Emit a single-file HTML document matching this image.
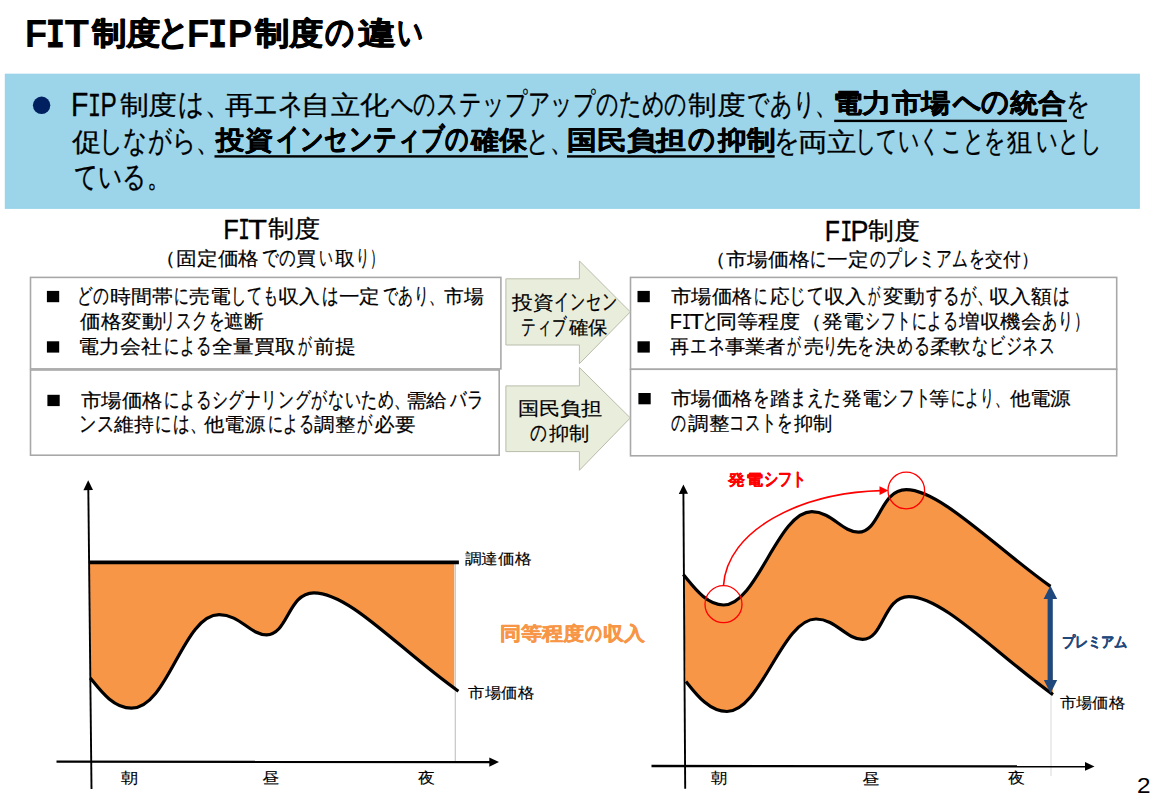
<!DOCTYPE html>
<html lang="ja">
<head>
<meta charset="utf-8">
<title>FIT制度とFIP制度の違い</title>
<style>
html,body{margin:0;padding:0;background:#fff}
body{width:1159px;height:799px;overflow:hidden}
svg{display:block;font-family:"Liberation Sans",sans-serif}
text{white-space:pre;stroke:#000;stroke-width:.35px;stroke-linejoin:round}
.b{font-weight:bold;stroke-width:.5px}
</style>
</head>
<body>
<svg width="1159" height="799" viewBox="0 0 1159 799">
<rect x="5.3" y="74.2" width="1134" height="134.1" fill="#9cd5ea" stroke="#93d1e8" stroke-width="1"/>
<circle cx="41.6" cy="105.3" r="8.7" fill="#002060"/>
<rect x="834.2" y="119.7" width="232.7" height="2.4" fill="#000"/>
<rect x="214.5" y="155.2" width="313.4" height="2.4" fill="#000"/>
<rect x="567.0" y="155.2" width="207.7" height="2.4" fill="#000"/>
<rect x="30.5" y="277.4" width="470.4" height="91.5" fill="#fff" stroke="#a8a8a8" stroke-width="1.6"/>
<rect x="30.5" y="370.0" width="468.7" height="85.2" fill="#fff" stroke="#a8a8a8" stroke-width="1.6"/>
<rect x="630.5" y="277.4" width="486.2" height="91.9" fill="#fff" stroke="#a8a8a8" stroke-width="1.6"/>
<rect x="630.5" y="369.3" width="486.2" height="86.5" fill="#fff" stroke="#a8a8a8" stroke-width="1.6"/>
<polygon points="505.9,278.8 579.4,278.8 579.4,260.9 630.3,311.9 579.4,363.7 579.4,345 505.9,345" fill="#e9eddc" stroke="#b9bcaa" stroke-width="1"/>
<polygon points="505.9,385.9 579.4,385.9 579.4,367.5 630.3,417.9 579.4,470.3 579.4,451.6 505.9,451.6" fill="#e9eddc" stroke="#b9bcaa" stroke-width="1"/>
<rect x="46.9" y="290.9" width="12.3" height="11.3" fill="#000"/>
<rect x="46.9" y="341.3" width="12.3" height="11.3" fill="#000"/>
<rect x="47.4" y="394.8" width="12.3" height="11.3" fill="#000"/>
<rect x="637.5" y="290.9" width="12.3" height="11.3" fill="#000"/>
<rect x="637.5" y="341.3" width="12.3" height="11.3" fill="#000"/>
<rect x="638.4" y="393" width="12.3" height="11.3" fill="#000"/>
<path d="M90.3,678 C100,690 113,708.2 131.5,708.2 C168,708.2 183,614.6 219.2,614.6 C240,614.6 250,634.8 266.6,634.8 C288,634.8 288,592.8 313.8,592.8 C350,592.8 400,650 458.4,691.2 L454.3,689 L454.3,562.7 L90,562.7 Z" fill="#f79646"/>
<line x1="455.3" y1="563" x2="455.3" y2="762" stroke="#c6c6c6" stroke-width="1.2"/>
<path d="M90.3,678 C100,690 113,708.2 131.5,708.2 C168,708.2 183,614.6 219.2,614.6 C240,614.6 250,634.8 266.6,634.8 C288,634.8 288,592.8 313.8,592.8 C350,592.8 400,650 458.4,691.2" fill="none" stroke="#000" stroke-width="3.2" stroke-linecap="butt"/>
<line x1="89.5" y1="562.4" x2="458.9" y2="562.4" stroke="#000" stroke-width="3.8"/>
<line x1="91.5" y1="789" x2="88.3" y2="488" stroke="#000" stroke-width="1.9"/>
<polygon points="88.2,480.3 93,490.1 83.4,490.2" fill="#000"/>
<line x1="56.5" y1="761.6" x2="490" y2="762" stroke="#000" stroke-width="2.3"/>
<polygon points="499,762 489.3,757.4 489.3,766.7" fill="#000"/>
<path d="M683.3,574.5 C693,586 706,605 723.5,605 C757,605 778,511.7 811.8,511.7 C832,511.7 842,532.1 858.4,532.1 C880,532.1 880,489.7 906.3,489.7 C940,489.7 995,547 1050.5,586.4 L1053,694.6 C995,653 943,596.6 908.8,596.6 C883,596.6 884,639.4 862.6,639.4 C846,639.4 836,619 816,619 C782,619 761,711.5 727,711.5 C709,711.5 696,694 686,681.5 Z" fill="#f79646"/>
<line x1="1051" y1="693" x2="1051" y2="776" stroke="#d9d9d9" stroke-width="1"/>
<path d="M683.3,574.5 C693,586 706,605 723.5,605 C757,605 778,511.7 811.8,511.7 C832,511.7 842,532.1 858.4,532.1 C880,532.1 880,489.7 906.3,489.7 C940,489.7 995,547 1050.5,586.4" fill="none" stroke="#000" stroke-width="3.2" stroke-linecap="butt"/>
<path d="M686,681.5 C696,694 709,711.5 727,711.5 C761,711.5 782,619 816,619 C836,619 846,639.4 862.6,639.4 C884,639.4 883,596.6 908.8,596.6 C943,596.6 995,653 1053,694.6" fill="none" stroke="#000" stroke-width="3.2" stroke-linecap="butt"/>
<line x1="685.2" y1="788.7" x2="683.4" y2="492" stroke="#000" stroke-width="1.9"/>
<polygon points="683.4,484.5 688,493.8 678.8,493.9" fill="#000"/>
<line x1="651.5" y1="766.0" x2="1087" y2="766.4" stroke="#000" stroke-width="2.3"/>
<polygon points="1094.5,766.4 1085,762 1085,770.8" fill="#000"/>
<circle cx="723.5" cy="604.2" r="18.5" fill="none" stroke="#ff0000" stroke-width="1.3"/>
<circle cx="906.3" cy="490.5" r="18.3" fill="none" stroke="#ff0000" stroke-width="1.3"/>
<path d="M723.5,585.6 C727,530 800,493 881,490.6" fill="none" stroke="#ff0000" stroke-width="1.6"/>
<polygon points="888.4,490.5 879.5,486.2 879.6,495" fill="#ff0000"/>
<line x1="1050.2" y1="598" x2="1050.2" y2="681" stroke="#1f497d" stroke-width="5.2"/>
<polygon points="1050.4,585.7 1057.2,599 1043.6,599" fill="#1f497d"/>
<polygon points="1050.6,693.2 1057.2,680 1043.8,680" fill="#1f497d"/>
<text x="25.05" y="47.30" font-size="39" textLength="22.15" lengthAdjust="spacingAndGlyphs" class="b" style="stroke-width:0.2px;">F</text>
<text x="46.12" y="47.30" font-size="40.6545" textLength="18.71" lengthAdjust="spacingAndGlyphs" class="b" font-family="Liberation Mono" style="stroke-width:1px;">I</text>
<text x="64.74" y="47.30" font-size="39" textLength="24.21" lengthAdjust="spacingAndGlyphs" class="b" style="stroke-width:0.2px;">T</text>
<text x="91.75" y="44.25" font-size="30.5" textLength="68.75" lengthAdjust="spacingAndGlyphs" class="b" style="stroke-width:0.9px;">制度</text>
<text x="157.20" y="44.25" font-size="35.07" textLength="33.38" lengthAdjust="spacingAndGlyphs" class="b" style="stroke-width:0.9px;">と</text>
<text x="186.93" y="47.30" font-size="39" textLength="22.26" lengthAdjust="spacingAndGlyphs" class="b" style="stroke-width:0.2px;">F</text>
<text x="208.17" y="47.30" font-size="40.6545" textLength="18.59" lengthAdjust="spacingAndGlyphs" class="b" font-family="Liberation Mono" style="stroke-width:1px;">I</text>
<text x="227.79" y="47.30" font-size="39" textLength="24.46" lengthAdjust="spacingAndGlyphs" class="b" style="stroke-width:0.2px;">P</text>
<text x="254.75" y="44.25" font-size="30.5" textLength="68.65" lengthAdjust="spacingAndGlyphs" class="b" style="stroke-width:0.9px;">制度</text>
<text x="324.74" y="44.25" font-size="35.07" textLength="29.58" lengthAdjust="spacingAndGlyphs" class="b" style="stroke-width:0.9px;">の</text>
<text x="357.70" y="44.25" font-size="30.5" textLength="38.13" lengthAdjust="spacingAndGlyphs" class="b" style="stroke-width:0.9px;">違</text>
<text x="396.99" y="44.25" font-size="35.07" textLength="26.38" lengthAdjust="spacingAndGlyphs" class="b" style="stroke-width:0.9px;">い</text>
<text x="71.07" y="116.40" font-size="32.7" textLength="17.34" lengthAdjust="spacingAndGlyphs" style="stroke-width:0.33px;">F</text>
<text x="87.91" y="116.40" font-size="34.0873" textLength="12.96" lengthAdjust="spacingAndGlyphs" font-family="Liberation Mono" style="stroke-width:0.34px;">I</text>
<text x="100.46" y="116.40" font-size="32.7" textLength="16.28" lengthAdjust="spacingAndGlyphs" style="stroke-width:0.33px;">P</text>
<text x="119.50" y="114.30" font-size="26.3" textLength="57.52" lengthAdjust="spacingAndGlyphs" style="stroke-width:0.26px;">制度</text>
<text x="178.30" y="114.30" font-size="30.24" textLength="52.26" lengthAdjust="spacingAndGlyphs" style="stroke-width:0.3px;">は、</text>
<text x="224.84" y="114.30" font-size="26.3" textLength="29.04" lengthAdjust="spacingAndGlyphs" style="stroke-width:0.26px;">再</text>
<text x="252.96" y="114.30" font-size="30.24" textLength="50.58" lengthAdjust="spacingAndGlyphs" style="stroke-width:0.3px;">エネ</text>
<text x="301.44" y="114.30" font-size="26.3" textLength="87.41" lengthAdjust="spacingAndGlyphs" style="stroke-width:0.26px;">自立化</text>
<text x="390.65" y="114.30" font-size="30.24" textLength="296.61" lengthAdjust="spacingAndGlyphs" style="stroke-width:0.3px;">へのステップアップのための</text>
<text x="688.20" y="114.30" font-size="26.3" textLength="57.22" lengthAdjust="spacingAndGlyphs" style="stroke-width:0.26px;">制度</text>
<text x="747.09" y="114.30" font-size="30.24" textLength="90.14" lengthAdjust="spacingAndGlyphs" style="stroke-width:0.3px;">であり、</text>
<text x="833.20" y="112.45" font-size="26" textLength="117.05" lengthAdjust="spacingAndGlyphs" class="b">電力市場</text>
<text x="952.76" y="112.45" font-size="29.9" textLength="56.76" lengthAdjust="spacingAndGlyphs" class="b">への</text>
<text x="1010.25" y="112.45" font-size="26" textLength="56.00" lengthAdjust="spacingAndGlyphs" class="b">統合</text>
<text x="1066.16" y="114.30" font-size="30.24" textLength="24.36" lengthAdjust="spacingAndGlyphs" style="stroke-width:0.3px;">を</text>
<text x="71.60" y="150.65" font-size="26.3" textLength="29.72" lengthAdjust="spacingAndGlyphs" style="stroke-width:0.26px;">促</text>
<text x="99.09" y="150.65" font-size="30.24" textLength="120.98" lengthAdjust="spacingAndGlyphs" style="stroke-width:0.3px;">しながら、</text>
<text x="216.29" y="148.70" font-size="26" textLength="56.50" lengthAdjust="spacingAndGlyphs" class="b">投資</text>
<text x="276.39" y="148.70" font-size="29.9" textLength="192.48" lengthAdjust="spacingAndGlyphs" class="b">インセンティブの</text>
<text x="470.98" y="148.70" font-size="26" textLength="56.12" lengthAdjust="spacingAndGlyphs" class="b">確保</text>
<text x="525.77" y="150.65" font-size="30.24" textLength="47.23" lengthAdjust="spacingAndGlyphs" style="stroke-width:0.3px;">と、</text>
<text x="566.98" y="148.70" font-size="26" textLength="119.37" lengthAdjust="spacingAndGlyphs" class="b">国民負担</text>
<text x="688.43" y="148.70" font-size="29.9" textLength="27.50" lengthAdjust="spacingAndGlyphs" class="b">の</text>
<text x="717.95" y="148.70" font-size="26" textLength="57.15" lengthAdjust="spacingAndGlyphs" class="b">抑制</text>
<text x="774.17" y="150.65" font-size="30.24" textLength="26.03" lengthAdjust="spacingAndGlyphs" style="stroke-width:0.3px;">を</text>
<text x="797.77" y="150.65" font-size="26.3" textLength="58.82" lengthAdjust="spacingAndGlyphs" style="stroke-width:0.26px;">両立</text>
<text x="854.55" y="150.65" font-size="30.24" textLength="151.50" lengthAdjust="spacingAndGlyphs" style="stroke-width:0.3px;">していくことを</text>
<text x="1007.00" y="150.65" font-size="26.3" textLength="25.21" lengthAdjust="spacingAndGlyphs" style="stroke-width:0.26px;">狙</text>
<text x="1035.67" y="150.65" font-size="30.24" textLength="66.04" lengthAdjust="spacingAndGlyphs" style="stroke-width:0.3px;">いとし</text>
<text x="73.53" y="186.90" font-size="30.24" textLength="96.90" lengthAdjust="spacingAndGlyphs" style="stroke-width:0.3px;">ている。</text>
<text x="223.37" y="238.90" font-size="28.2" textLength="15.55" lengthAdjust="spacingAndGlyphs" style="stroke-width:0.28px;">F</text>
<text x="238.17" y="238.90" font-size="29.3964" textLength="11.63" lengthAdjust="spacingAndGlyphs" font-family="Liberation Mono" style="stroke-width:0.29px;">I</text>
<text x="247.97" y="238.90" font-size="28.2" textLength="19.06" lengthAdjust="spacingAndGlyphs" style="stroke-width:0.28px;">T</text>
<text x="267.90" y="237.05" font-size="24.2" textLength="52.37" lengthAdjust="spacingAndGlyphs" style="stroke-width:0.24px;">制度</text>
<text x="155.41" y="265.07" font-size="19.2" textLength="103.84" lengthAdjust="spacingAndGlyphs" style="stroke-width:0.19px;">（固定価格</text>
<text x="261.50" y="265.07" font-size="22.08" textLength="34.64" lengthAdjust="spacingAndGlyphs" style="stroke-width:0.22px;">での</text>
<text x="296.48" y="265.07" font-size="19.2" textLength="19.89" lengthAdjust="spacingAndGlyphs" style="stroke-width:0.19px;">買</text>
<text x="318.57" y="265.07" font-size="22.08" textLength="14.41" lengthAdjust="spacingAndGlyphs" style="stroke-width:0.22px;">い</text>
<text x="334.74" y="265.07" font-size="19.2" textLength="19.98" lengthAdjust="spacingAndGlyphs" style="stroke-width:0.19px;">取</text>
<text x="355.81" y="265.07" font-size="22.08" textLength="27.17" lengthAdjust="spacingAndGlyphs" style="stroke-width:0.22px;">り）</text>
<text x="824.73" y="240.80" font-size="28.9" textLength="15.19" lengthAdjust="spacingAndGlyphs" style="stroke-width:0.29px;">F</text>
<text x="840.23" y="240.80" font-size="30.1261" textLength="12.19" lengthAdjust="spacingAndGlyphs" font-family="Liberation Mono" style="stroke-width:0.3px;">I</text>
<text x="850.59" y="240.80" font-size="28.9" textLength="17.95" lengthAdjust="spacingAndGlyphs" style="stroke-width:0.29px;">P</text>
<text x="868.40" y="238.67" font-size="24.2" textLength="51.57" lengthAdjust="spacingAndGlyphs" style="stroke-width:0.24px;">制度</text>
<text x="704.63" y="265.91" font-size="19.2" textLength="105.33" lengthAdjust="spacingAndGlyphs" style="stroke-width:0.19px;">（市場価格</text>
<text x="810.14" y="265.91" font-size="22.08" textLength="16.98" lengthAdjust="spacingAndGlyphs" style="stroke-width:0.22px;">に</text>
<text x="827.22" y="265.91" font-size="19.2" textLength="41.44" lengthAdjust="spacingAndGlyphs" style="stroke-width:0.19px;">一定</text>
<text x="869.59" y="265.91" font-size="22.08" textLength="115.56" lengthAdjust="spacingAndGlyphs" style="stroke-width:0.22px;">のプレミアムを</text>
<text x="985.42" y="265.91" font-size="19.2" textLength="53.22" lengthAdjust="spacingAndGlyphs" style="stroke-width:0.19px;">交付）</text>
<text x="76.85" y="302.74" font-size="22.2" textLength="32.89" lengthAdjust="spacingAndGlyphs" style="stroke-width:0.22px;">どの</text>
<text x="109.87" y="302.74" font-size="19.3" textLength="62.92" lengthAdjust="spacingAndGlyphs" style="stroke-width:0.19px;">時間帯</text>
<text x="173.93" y="302.74" font-size="22.2" textLength="15.33" lengthAdjust="spacingAndGlyphs" style="stroke-width:0.22px;">に</text>
<text x="189.49" y="302.74" font-size="19.3" textLength="41.56" lengthAdjust="spacingAndGlyphs" style="stroke-width:0.19px;">売電</text>
<text x="231.04" y="302.74" font-size="22.2" textLength="47.55" lengthAdjust="spacingAndGlyphs" style="stroke-width:0.22px;">しても</text>
<text x="277.81" y="302.74" font-size="19.3" textLength="41.86" lengthAdjust="spacingAndGlyphs" style="stroke-width:0.19px;">収入</text>
<text x="321.87" y="302.74" font-size="22.2" textLength="17.28" lengthAdjust="spacingAndGlyphs" style="stroke-width:0.22px;">は</text>
<text x="338.82" y="302.74" font-size="19.3" textLength="41.12" lengthAdjust="spacingAndGlyphs" style="stroke-width:0.19px;">一定</text>
<text x="382.77" y="302.74" font-size="22.2" textLength="61.40" lengthAdjust="spacingAndGlyphs" style="stroke-width:0.22px;">であり、</text>
<text x="443.64" y="302.74" font-size="19.3" textLength="39.81" lengthAdjust="spacingAndGlyphs" style="stroke-width:0.19px;">市場</text>
<text x="80.10" y="328.00" font-size="19.3" textLength="82.71" lengthAdjust="spacingAndGlyphs" style="stroke-width:0.19px;">価格変動</text>
<text x="160.06" y="328.00" font-size="22.2" textLength="64.85" lengthAdjust="spacingAndGlyphs" style="stroke-width:0.22px;">リスクを</text>
<text x="224.09" y="328.00" font-size="19.3" textLength="39.57" lengthAdjust="spacingAndGlyphs" style="stroke-width:0.19px;">遮断</text>
<text x="78.05" y="353.24" font-size="19.3" textLength="84.02" lengthAdjust="spacingAndGlyphs" style="stroke-width:0.19px;">電力会社</text>
<text x="164.38" y="353.24" font-size="22.2" textLength="47.74" lengthAdjust="spacingAndGlyphs" style="stroke-width:0.22px;">による</text>
<text x="212.46" y="353.24" font-size="19.3" textLength="83.33" lengthAdjust="spacingAndGlyphs" style="stroke-width:0.19px;">全量買取</text>
<text x="297.56" y="353.24" font-size="22.2" textLength="14.29" lengthAdjust="spacingAndGlyphs" style="stroke-width:0.22px;">が</text>
<text x="313.84" y="353.24" font-size="19.3" textLength="41.66" lengthAdjust="spacingAndGlyphs" style="stroke-width:0.19px;">前提</text>
<text x="80.75" y="406.90" font-size="19.3" textLength="82.16" lengthAdjust="spacingAndGlyphs" style="stroke-width:0.19px;">市場価格</text>
<text x="163.81" y="406.90" font-size="22.2" textLength="48.23" lengthAdjust="spacingAndGlyphs" style="stroke-width:0.22px;">による</text>
<text x="211.57" y="406.90" font-size="22.2" textLength="198.79" lengthAdjust="spacingAndGlyphs" style="stroke-width:0.22px;">シグナリングがないため、</text>
<text x="405.59" y="406.90" font-size="19.3" textLength="41.53" lengthAdjust="spacingAndGlyphs" style="stroke-width:0.19px;">需給</text>
<text x="449.75" y="406.90" font-size="22.2" textLength="34.52" lengthAdjust="spacingAndGlyphs" style="stroke-width:0.22px;">バラ</text>
<text x="78.61" y="431.24" font-size="22.2" textLength="35.97" lengthAdjust="spacingAndGlyphs" style="stroke-width:0.22px;">ンス</text>
<text x="114.45" y="431.24" font-size="19.3" textLength="39.90" lengthAdjust="spacingAndGlyphs" style="stroke-width:0.19px;">維持</text>
<text x="155.22" y="431.24" font-size="22.2" textLength="51.17" lengthAdjust="spacingAndGlyphs" style="stroke-width:0.22px;">には、</text>
<text x="204.05" y="431.24" font-size="19.3" textLength="60.89" lengthAdjust="spacingAndGlyphs" style="stroke-width:0.19px;">他電源</text>
<text x="267.50" y="431.24" font-size="22.2" textLength="47.18" lengthAdjust="spacingAndGlyphs" style="stroke-width:0.22px;">による</text>
<text x="314.40" y="431.24" font-size="19.3" textLength="41.11" lengthAdjust="spacingAndGlyphs" style="stroke-width:0.19px;">調整</text>
<text x="357.08" y="431.24" font-size="22.2" textLength="15.92" lengthAdjust="spacingAndGlyphs" style="stroke-width:0.22px;">が</text>
<text x="374.14" y="431.24" font-size="19.3" textLength="41.17" lengthAdjust="spacingAndGlyphs" style="stroke-width:0.19px;">必要</text>
<text x="670.85" y="302.95" font-size="19.3" textLength="81.96" lengthAdjust="spacingAndGlyphs" style="stroke-width:0.19px;">市場価格</text>
<text x="754.44" y="302.95" font-size="22.2" textLength="14.00" lengthAdjust="spacingAndGlyphs" style="stroke-width:0.22px;">に</text>
<text x="770.44" y="302.95" font-size="19.3" textLength="19.61" lengthAdjust="spacingAndGlyphs" style="stroke-width:0.19px;">応</text>
<text x="789.06" y="302.95" font-size="22.2" textLength="35.29" lengthAdjust="spacingAndGlyphs" style="stroke-width:0.22px;">じて</text>
<text x="823.90" y="302.95" font-size="19.3" textLength="41.97" lengthAdjust="spacingAndGlyphs" style="stroke-width:0.19px;">収入</text>
<text x="867.64" y="302.95" font-size="22.2" textLength="12.72" lengthAdjust="spacingAndGlyphs" style="stroke-width:0.22px;">が</text>
<text x="882.98" y="302.95" font-size="19.3" textLength="41.46" lengthAdjust="spacingAndGlyphs" style="stroke-width:0.19px;">変動</text>
<text x="925.82" y="302.95" font-size="22.2" textLength="67.80" lengthAdjust="spacingAndGlyphs" style="stroke-width:0.22px;">するが、</text>
<text x="988.72" y="302.95" font-size="19.3" textLength="62.74" lengthAdjust="spacingAndGlyphs" style="stroke-width:0.19px;">収入額</text>
<text x="1053.44" y="302.95" font-size="22.2" textLength="17.53" lengthAdjust="spacingAndGlyphs" style="stroke-width:0.22px;">は</text>
<text x="669.80" y="328.50" font-size="22" textLength="12.12" lengthAdjust="spacingAndGlyphs" style="stroke-width:0.22px;">F</text>
<text x="681.72" y="328.50" font-size="22.9333" textLength="9.53" lengthAdjust="spacingAndGlyphs" font-family="Liberation Mono" style="stroke-width:0.23px;">I</text>
<text x="689.52" y="328.50" font-size="22" textLength="14.40" lengthAdjust="spacingAndGlyphs" style="stroke-width:0.22px;">T</text>
<text x="701.50" y="328.00" font-size="22.2" textLength="17.46" lengthAdjust="spacingAndGlyphs" style="stroke-width:0.22px;">と</text>
<text x="716.30" y="328.00" font-size="19.3" textLength="84.18" lengthAdjust="spacingAndGlyphs" style="stroke-width:0.19px;">同等程度</text>
<text x="801.21" y="328.00" font-size="19.3" textLength="62.48" lengthAdjust="spacingAndGlyphs" style="stroke-width:0.19px;">（発電</text>
<text x="865.07" y="328.00" font-size="22.2" textLength="93.41" lengthAdjust="spacingAndGlyphs" style="stroke-width:0.22px;">シフトによる</text>
<text x="959.35" y="328.00" font-size="19.3" textLength="81.90" lengthAdjust="spacingAndGlyphs" style="stroke-width:0.19px;">増収機会</text>
<text x="1042.04" y="328.00" font-size="22.2" textLength="46.58" lengthAdjust="spacingAndGlyphs" style="stroke-width:0.22px;">あり）</text>
<text x="670.35" y="353.42" font-size="19.3" textLength="19.11" lengthAdjust="spacingAndGlyphs" style="stroke-width:0.19px;">再</text>
<text x="690.30" y="353.42" font-size="22.2" textLength="35.08" lengthAdjust="spacingAndGlyphs" style="stroke-width:0.22px;">エネ</text>
<text x="724.65" y="353.42" font-size="19.3" textLength="61.21" lengthAdjust="spacingAndGlyphs" style="stroke-width:0.19px;">事業者</text>
<text x="787.40" y="353.42" font-size="22.2" textLength="14.39" lengthAdjust="spacingAndGlyphs" style="stroke-width:0.22px;">が</text>
<text x="804.32" y="353.42" font-size="19.3" textLength="19.98" lengthAdjust="spacingAndGlyphs" style="stroke-width:0.19px;">売</text>
<text x="823.09" y="353.42" font-size="22.2" textLength="15.16" lengthAdjust="spacingAndGlyphs" style="stroke-width:0.22px;">り</text>
<text x="835.68" y="353.42" font-size="19.3" textLength="21.05" lengthAdjust="spacingAndGlyphs" style="stroke-width:0.19px;">先</text>
<text x="857.11" y="353.42" font-size="22.2" textLength="17.65" lengthAdjust="spacingAndGlyphs" style="stroke-width:0.22px;">を</text>
<text x="874.98" y="353.42" font-size="19.3" textLength="20.70" lengthAdjust="spacingAndGlyphs" style="stroke-width:0.19px;">決</text>
<text x="896.96" y="353.42" font-size="22.2" textLength="33.33" lengthAdjust="spacingAndGlyphs" style="stroke-width:0.22px;">める</text>
<text x="929.68" y="353.42" font-size="19.3" textLength="41.09" lengthAdjust="spacingAndGlyphs" style="stroke-width:0.19px;">柔軟</text>
<text x="972.42" y="353.42" font-size="22.2" textLength="83.42" lengthAdjust="spacingAndGlyphs" style="stroke-width:0.22px;">なビジネス</text>
<text x="670.85" y="405.15" font-size="19.3" textLength="81.96" lengthAdjust="spacingAndGlyphs" style="stroke-width:0.19px;">市場価格</text>
<text x="752.77" y="405.15" font-size="22.2" textLength="17.23" lengthAdjust="spacingAndGlyphs" style="stroke-width:0.22px;">を</text>
<text x="770.18" y="405.15" font-size="19.3" textLength="20.34" lengthAdjust="spacingAndGlyphs" style="stroke-width:0.19px;">踏</text>
<text x="789.65" y="405.15" font-size="22.2" textLength="51.71" lengthAdjust="spacingAndGlyphs" style="stroke-width:0.22px;">まえた</text>
<text x="841.85" y="405.15" font-size="19.3" textLength="39.35" lengthAdjust="spacingAndGlyphs" style="stroke-width:0.19px;">発電</text>
<text x="882.44" y="405.15" font-size="22.2" textLength="48.72" lengthAdjust="spacingAndGlyphs" style="stroke-width:0.22px;">シフト</text>
<text x="928.87" y="405.15" font-size="19.3" textLength="20.15" lengthAdjust="spacingAndGlyphs" style="stroke-width:0.19px;">等</text>
<text x="950.64" y="405.15" font-size="22.2" textLength="58.26" lengthAdjust="spacingAndGlyphs" style="stroke-width:0.22px;">により、</text>
<text x="1009.50" y="405.15" font-size="19.3" textLength="61.30" lengthAdjust="spacingAndGlyphs" style="stroke-width:0.19px;">他電源</text>
<text x="670.55" y="430.16" font-size="22.2" textLength="15.57" lengthAdjust="spacingAndGlyphs" style="stroke-width:0.22px;">の</text>
<text x="688.14" y="430.16" font-size="19.3" textLength="41.17" lengthAdjust="spacingAndGlyphs" style="stroke-width:0.19px;">調整</text>
<text x="728.87" y="430.16" font-size="22.2" textLength="64.59" lengthAdjust="spacingAndGlyphs" style="stroke-width:0.22px;">コストを</text>
<text x="793.80" y="430.16" font-size="19.3" textLength="38.53" lengthAdjust="spacingAndGlyphs" style="stroke-width:0.19px;">抑制</text>
<text x="511.70" y="308.70" font-size="19.3" textLength="41.67" lengthAdjust="spacingAndGlyphs" style="stroke-width:0.19px;">投資</text>
<text x="554.20" y="308.70" font-size="22.2" textLength="63.28" lengthAdjust="spacingAndGlyphs" style="stroke-width:0.22px;">インセン</text>
<text x="521.37" y="333.65" font-size="22.2" textLength="45.89" lengthAdjust="spacingAndGlyphs" style="stroke-width:0.22px;">ティブ</text>
<text x="568.65" y="333.65" font-size="19.3" textLength="38.90" lengthAdjust="spacingAndGlyphs" style="stroke-width:0.19px;">確保</text>
<text x="517.96" y="415.02" font-size="19.3" textLength="84.65" lengthAdjust="spacingAndGlyphs" style="stroke-width:0.19px;">国民負担</text>
<text x="530.45" y="439.54" font-size="22.2" textLength="17.46" lengthAdjust="spacingAndGlyphs" style="stroke-width:0.22px;">の</text>
<text x="549.10" y="439.54" font-size="19.3" textLength="40.53" lengthAdjust="spacingAndGlyphs" style="stroke-width:0.19px;">抑制</text>
<text x="464.55" y="563.80" font-size="15" textLength="66.81" lengthAdjust="spacingAndGlyphs" style="stroke-width:0.15px;">調達価格</text>
<text x="468.45" y="697.90" font-size="15" textLength="65.46" lengthAdjust="spacingAndGlyphs" style="stroke-width:0.15px;">市場価格</text>
<text x="120.69" y="782.94" font-size="15" textLength="17.25" lengthAdjust="spacingAndGlyphs" style="stroke-width:0.15px;">朝</text>
<text x="261.65" y="782.94" font-size="15" textLength="17.25" lengthAdjust="spacingAndGlyphs" style="stroke-width:0.15px;">昼</text>
<text x="418.00" y="782.72" font-size="15" textLength="16.88" lengthAdjust="spacingAndGlyphs" style="stroke-width:0.15px;">夜</text>
<text x="499.58" y="640.45" font-size="18.5" textLength="84.39" lengthAdjust="spacingAndGlyphs" class="b" style="fill:#f79646;stroke:#f79646;">同等程度</text>
<text x="585.00" y="640.45" font-size="21.27" textLength="17.59" lengthAdjust="spacingAndGlyphs" class="b" style="fill:#f79646;stroke:#f79646;">の</text>
<text x="603.19" y="640.45" font-size="18.5" textLength="41.83" lengthAdjust="spacingAndGlyphs" class="b" style="fill:#f79646;stroke:#f79646;">収入</text>
<text x="728.49" y="484.59" font-size="15.4" textLength="34.23" lengthAdjust="spacingAndGlyphs" class="b" style="fill:#ff0000;stroke:#ff0000;stroke-width:0.3px;">発電</text>
<text x="764.09" y="484.59" font-size="17.71" textLength="42.46" lengthAdjust="spacingAndGlyphs" class="b" style="fill:#ff0000;stroke:#ff0000;stroke-width:0.3px;">シフト</text>
<text x="1061.54" y="647.19" font-size="15.29" textLength="66.02" lengthAdjust="spacingAndGlyphs" class="b" style="fill:#1f497d;stroke:#1f497d;stroke-width:0.3px;">プレミアム</text>
<text x="1059.75" y="707.81" font-size="15" textLength="65.26" lengthAdjust="spacingAndGlyphs" style="stroke-width:0.15px;">市場価格</text>
<text x="711.31" y="782.93" font-size="15" textLength="16.45" lengthAdjust="spacingAndGlyphs" style="stroke-width:0.15px;">朝</text>
<text x="862.26" y="784.36" font-size="15" textLength="17.44" lengthAdjust="spacingAndGlyphs" style="stroke-width:0.15px;">昼</text>
<text x="1008.00" y="782.52" font-size="15" textLength="16.88" lengthAdjust="spacingAndGlyphs" style="stroke-width:0.15px;">夜</text>
<text x="1137.09" y="792.90" font-size="22.3" textLength="13.51" lengthAdjust="spacingAndGlyphs" style="stroke-width:0px;">2</text>
</svg>
</body>
</html>
